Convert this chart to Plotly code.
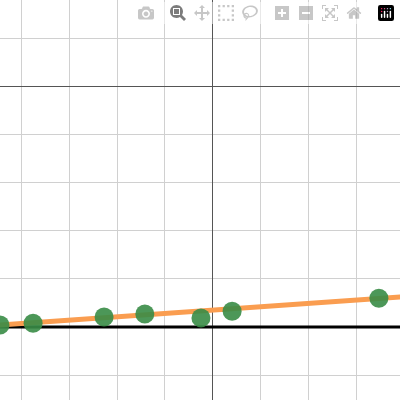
import plotly.graph_objects as go

pts_x = [-4.44, -3.75, -2.27, -1.42, -0.25, 0.40, 3.46]
pts_y = [-4.96, -4.92, -4.79, -4.73, -4.81, -4.67, -4.40]
fit_x = [-4.6, 4.0]
fit_y = [-4.97, -4.37]
base_x = [-4.6, 4.0]
base_y = [-5, -5]

fig = go.Figure()
fig.add_trace(go.Scatter(x=base_x, y=base_y, mode="lines", line=dict(color="black", width=3)))
fig.add_trace(go.Scatter(x=fit_x, y=fit_y, mode="lines", line=dict(color="#fa9d50", width=5)))
fig.add_trace(go.Scatter(x=pts_x, y=pts_y, mode="markers",
                         marker=dict(color="#388c46", size=19, opacity=0.9)))
fig.update_layout(width=400, height=400, margin=dict(l=0, r=0, t=0, b=0),
                  paper_bgcolor="white", plot_bgcolor="white", showlegend=False)
fig.update_xaxes(range=[-4.44, 3.9], dtick=1, showgrid=True, gridcolor="#d0d0d0",
                 zeroline=True, zerolinecolor="#555", zerolinewidth=1, showticklabels=False)
fig.update_yaxes(range=[-6.52, 1.81], dtick=1, showgrid=True, gridcolor="#d0d0d0",
                 zeroline=True, zerolinecolor="#555", zerolinewidth=1, showticklabels=False)
fig.write_html("out.html", post_script="document.body.style.margin='0';document.body.style.overflow='hidden';")
